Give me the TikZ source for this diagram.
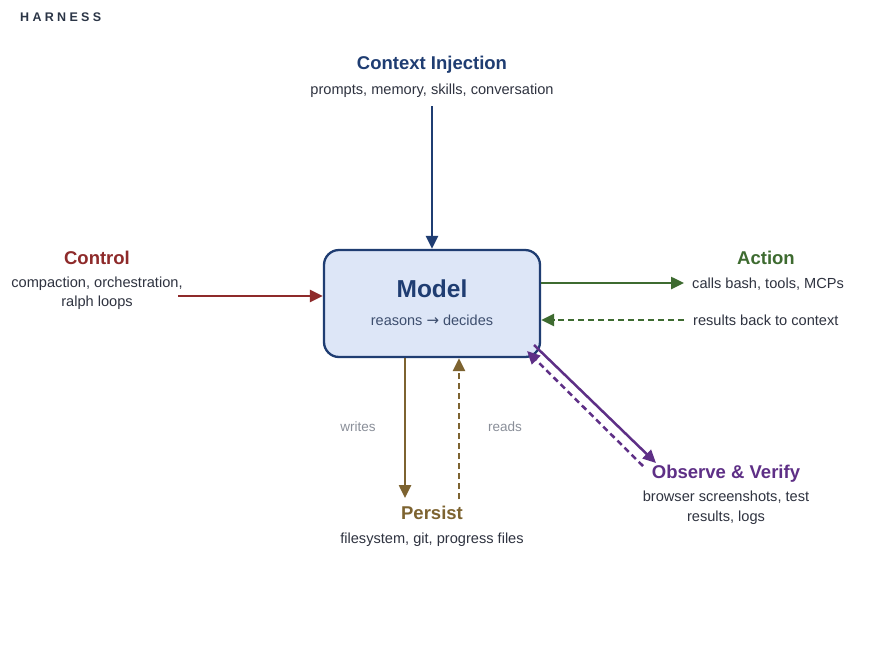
\documentclass[tikz,border=0pt]{standalone}
\usepackage{fontspec}
\setmainfont{Liberation Sans}
\newfontfamily\dejavu{DejaVu Sans}
\usetikzlibrary{arrows.meta}
\definecolor{navy}{HTML}{1F3D72}
\definecolor{boxfill}{HTML}{DDE6F7}
\definecolor{ctrlred}{HTML}{8E2A2A}
\definecolor{actgreen}{HTML}{3E6B30}
\definecolor{perbrown}{HTML}{7D6330}
\definecolor{obspurple}{HTML}{5E2F86}
\definecolor{subgray}{HTML}{2F3340}
\definecolor{lblgray}{HTML}{8A8F99}
\definecolor{harn}{HTML}{2B3546}
\definecolor{msubc}{HTML}{3D4E6E}
\tikzset{
  ttl/.style={font=\fontsize{18.5}{21}\selectfont\bfseries, inner sep=0pt, anchor=base},
  sub/.style={font=\fontsize{14.6}{19.5}\selectfont, text=subgray, inner sep=0pt, align=center},
  arr/.style={line width=2.5pt, -{Triangle[length=13pt,width=12pt]}},
  darr/.style={line width=2.5pt, dash pattern=on 6pt off 4pt, -{Triangle[length=13pt,width=12pt]}},
}
\begin{document}
\begin{tikzpicture}[x=1pt,y=-1pt]
\useasboundingbox[fill=white] (0,0) rectangle (892,646);
\node[font=\fontsize{12.5}{14}\selectfont\bfseries, text=harn, anchor=west, inner sep=0pt] (harness) at (20,17) {H\hspace{3.3pt}A\hspace{3.3pt}R\hspace{3.3pt}N\hspace{3.3pt}E\hspace{3.3pt}S\hspace{3.3pt}S};

% Model box
\node[draw=navy, fill=boxfill, line width=2.3pt, rounded corners=15pt, minimum width=216pt, minimum height=107pt, inner sep=0pt] (model) at (432,303.5) {};
\node[font=\fontsize{24.5}{28}\selectfont\bfseries, text=navy, inner sep=0pt, anchor=base] (mtitle) at (432,297) {Model};
\node[font=\fontsize{14.5}{17}\selectfont, text=msubc, inner sep=0pt, anchor=base] (msub) at (432,325) {reasons {\dejavu\fontsize{15}{17}\selectfont →} decides};

% Context Injection
\node[ttl, text=navy] (ctx) at (432,69.6) {Context Injection};
\node[sub, anchor=base] (ctxsub) at (432,94) {prompts, memory, skills, conversation};
\coordinate (ctxs) at (432,106);
\draw[arr, navy] (ctxs) -- (model.north);

% Control
\node[ttl, text=ctrlred] (ctrl) at (97,264.6) {Control};
\node[sub] (ctrlsub) at (97,293) {compaction, orchestration,\\ralph loops};
\coordinate (ctrls) at (178,296);
\draw[arr, ctrlred] (ctrls) -- (model.west |- ctrls);

% Action
\node[ttl, text=actgreen] (act) at (766,264.6) {Action};
\node[sub, anchor=base west] (act1) at (692,288) {calls bash, tools, MCPs};
\node[sub, anchor=base west] (act2) at (693,325) {results back to context};
\coordinate (acte) at (684,283);
\coordinate (acts) at (684,320);
\draw[arr, actgreen] (model.east |- acte) -- (acte);
\draw[darr, actgreen] (acts) -- (model.east |- acts);

% Persist
\node[ttl, text=perbrown] (per) at (432,519.6) {Persist};
\node[sub, anchor=base] (persub) at (432,543) {filesystem, git, progress files};
\coordinate (pwe) at (405,498);
\coordinate (prs) at (459,499);
\draw[arr, perbrown] (model.south -| pwe) -- (pwe);
\draw[darr, perbrown] (prs) -- (model.south -| prs);
\node[sub, text=lblgray, font=\fontsize{13.5}{15}\selectfont, anchor=base] (writes) at (358,431.5) {writes};
\node[sub, text=lblgray, font=\fontsize{13.5}{15}\selectfont, anchor=base] (reads) at (505,431.5) {reads};

% Observe & Verify
\node[ttl, text=obspurple] (obs) at (726,478.6) {Observe \& Verify};
\node[sub] (obssub) at (726,507.5) {browser screenshots, test\\results, logs};
\coordinate (o1s) at (534,345);
\coordinate (o1e) at (656,463);
\coordinate (o2s) at (643,466);
\coordinate (o2e) at (527,351);
\draw[arr, obspurple] (o1s) -- (o1e);
\draw[darr, obspurple] (o2s) -- (o2e);
\end{tikzpicture}
\end{document}
